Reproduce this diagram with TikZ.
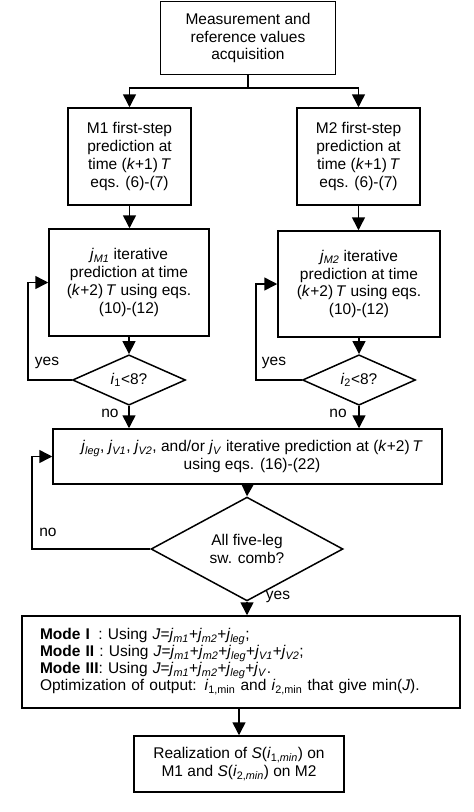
\documentclass[tikz,border=0pt]{standalone}
\usepackage{fontspec}
\setmainfont{Liberation Sans}
\usetikzlibrary{shapes.geometric,arrows.meta}
\newcommand{\sbi}[1]{\textsubscript{\textit{#1}}}
\newcommand{\sbu}[1]{\textsubscript{#1}}
\begin{document}
\begin{tikzpicture}[x=1pt,y=-1pt,
  every node/.style={font=\fontsize{15.5}{17.8}\selectfont},
  box/.style={draw,line width=1.5pt,rectangle,align=center,inner sep=0pt},
  dia/.style={draw,line width=1.5pt,diamond,align=center,inner sep=0pt},
  arr/.style={line width=1.5pt,-{Triangle[length=13pt,width=13pt]}},
  ln/.style={line width=1.5pt},
  lbl/.style={inner sep=0pt}]
\useasboundingbox (0,0) rectangle (474,812);

\node[box,minimum width=175pt,minimum height=73pt] (top) at (248,38) {Measurement and\\reference values\\acquisition};

\node[box,minimum width=123pt,minimum height=97pt] (m1) at (129.5,156.5) {M1 first-step\\prediction at\\time (\textit{k}+1)\,\textit{T}\\eqs. (6)-(7)};
\node[box,minimum width=123pt,minimum height=97pt] (m2) at (358.5,156.5) {M2 first-step\\prediction at\\time (\textit{k}+1)\,\textit{T}\\eqs. (6)-(7)};

\node[box,minimum width=160pt,minimum height=107pt] (j1) at (129,282.5) {\textit{j}\sbi{M1} iterative\\prediction at time\\(\textit{k}+2)\,\textit{T} using eqs.\\(10)-(12)};
\node[box,minimum width=162pt,minimum height=106pt] (j2) at (359,284) {\textit{j}\sbi{M2} iterative\\prediction at time\\(\textit{k}+2)\,\textit{T} using eqs.\\(10)-(12)};

\node[dia,minimum width=113pt,minimum height=48pt] (d1) at (129,380) {\textit{i}\sbu{1}<8?};
\node[dia,minimum width=113pt,minimum height=48pt] (d2) at (359,380) {\textit{i}\sbu{2}<8?};

\node[box,minimum width=389pt,minimum height=55pt] (wide) at (247.5,456.5) {\hspace*{9pt}\textit{j}\sbi{leg}, \textit{j}\sbi{V1}, \textit{j}\sbi{V2}, and/or \textit{j}\sbi{V} iterative prediction at (\textit{k}+2)\,\textit{T}\\\hspace*{9pt}using eqs. (16)-(22)};

\node[dia,minimum width=192pt,minimum height=84pt] (bd) at (247,549) {All five-leg\\sw. comb?};

\node[box,text width=402pt,inner xsep=18pt,minimum height=92pt,align=left,font=\fontsize{15.5}{17}\selectfont] (mode) at (241,662) {\textbf{Mode I}\hspace{0.55em}: Using \textit{J}=\textit{j}\sbi{m1}+\textit{j}\sbi{m2}+\textit{j}\sbi{leg};\\
\textbf{Mode II} : Using \textit{J}=\textit{j}\sbi{m1}+\textit{j}\sbi{m2}+\textit{j}\sbi{leg}+\textit{j}\sbi{V1}+\textit{j}\sbi{V2};\\
\textbf{Mode III}: Using \textit{J}=\textit{j}\sbi{m1}+\textit{j}\sbi{m2}+\textit{j}\sbi{leg}+\textit{j}\sbi{V}.\\
Optimization of output: \textit{i}\sbu{1,min} and \textit{i}\sbu{2,min} that give min(\textit{J}).};

\node[box,minimum width=210pt,minimum height=56pt] (real) at (239,764) {Realization of \textit{S}(\textit{i}\textsubscript{1,\textit{min}}) on\\M1 and \textit{S}(\textit{i}\textsubscript{2,\textit{min}}) on M2};

% connectors
\coordinate (sp) at (248,88);
\draw[arr] (top.south) -- (sp) -| (m1.north);
\draw[arr] (sp) -| (m2.north);
\draw[arr] (m1.south) -- (m1.south |- j1.north);
\draw[arr] (m2.south) -- (m2.south |- j2.north);
\draw[arr] (j1.south) -- (d1.north);
\draw[arr] (j2.south) -- (d2.north);

\coordinate (lp1) at (28,380);
\coordinate (lp2) at (256,380);
\draw[arr] (d1.west) -- (lp1) |- (j1.west);
\draw[arr] (d2.west) -- (lp2) |- (j2.west);

\draw[arr] (d1.south) -- (d1.south |- wide.north);
\draw[arr] (d2.south) -- (d2.south |- wide.north);

\draw[arr] (wide.south) -- (bd.north);
\coordinate (lp3) at (32,549);
\draw[arr] (bd.west) -- (lp3) |- (wide.west);

\draw[arr] (bd.south) -- (bd.south |- mode.north);
\draw[arr] (real.north |- mode.south) -- (real.north);

% labels
\node[lbl] (y1) at (47,363) {yes};
\node[lbl] (y2) at (274,363) {yes};
\node[lbl] (n1) at (110,413) {no};
\node[lbl] (n2) at (338,413) {no};
\node[lbl] (n3) at (48,532) {no};
\node[lbl] (y3) at (278,597) {yes};
\end{tikzpicture}
\end{document}
